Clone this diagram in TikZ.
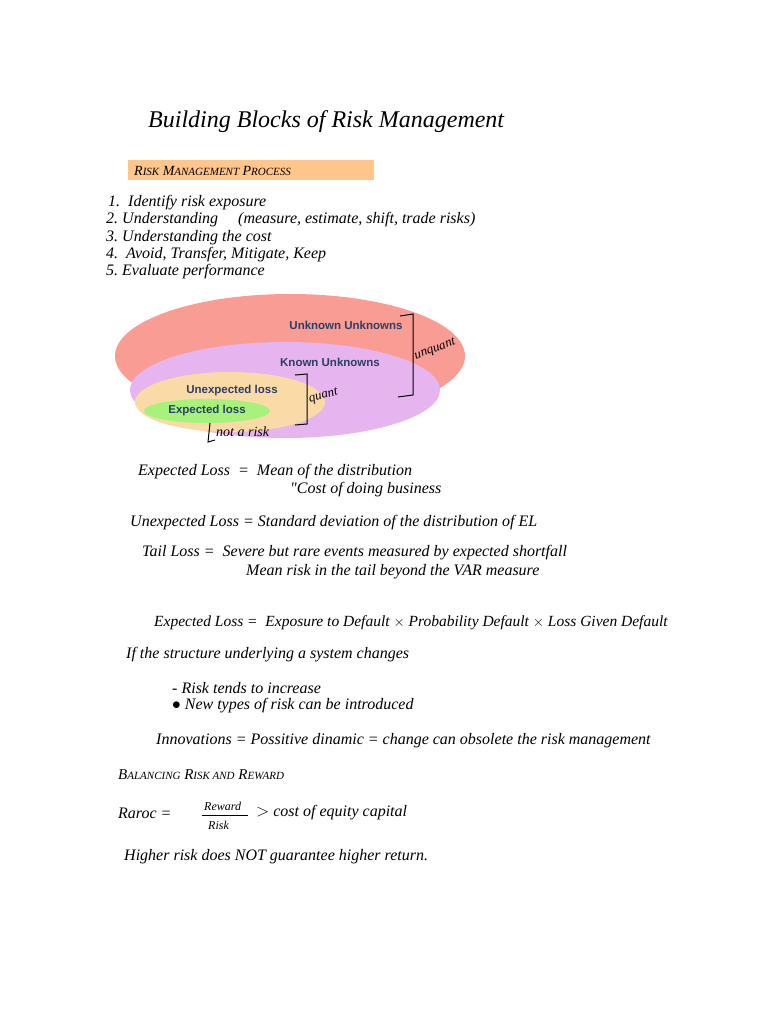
\documentclass[tikz,border=0pt]{standalone}
\usepackage{fontspec}
\setmainfont{Liberation Sans}
\newfontfamily\hand{Liberation Serif}
\definecolor{lilac}{HTML}{E6B4EE}
\definecolor{salmon}{HTML}{F99C94}
\definecolor{peach}{HTML}{FADBA8}
\definecolor{lgreen}{HTML}{A6F27C}
\definecolor{navy}{HTML}{2A3F66}
\begin{document}
\begin{tikzpicture}[x=1pt,y=-1pt,
  hw/.style={font=\hand\itshape\fontsize{16}{18}\selectfont,anchor=west,inner sep=0pt},
  lab/.style={font=\bfseries\fontsize{11.5}{13}\selectfont,text=navy,inner sep=0pt},
  brk/.style={line width=1pt}]
\useasboundingbox[fill=white] (0,0) rectangle (768,1024);
\node[hw,font=\hand\itshape\fontsize{24}{28}\selectfont] (title) at (148,122) {Building Blocks of Risk Management};
\fill[orange!45] (128,160) rectangle (374,180);
\node[hw,font=\hand\itshape\fontsize{14}{16}\selectfont] (proc) at (134,171) {R{\fontsize{11}{12}\selectfont ISK} M{\fontsize{11}{12}\selectfont ANAGEMENT} P{\fontsize{11}{12}\selectfont ROCESS}};
\node[hw] (l1) at (108,203) {1.\ \ Identify risk exposure};
\node[hw] (l2) at (106,220) {2.\ Understanding \quad (measure, estimate, shift, trade risks)};
\node[hw] (l3) at (106,238) {3.\ Understanding the cost};
\node[hw] (l4) at (106,255) {4.\ \ Avoid, Transfer, Mitigate, Keep};
\node[hw] (l5) at (106,272) {5.\ Evaluate performance};
\fill[salmon] (290,356) ellipse (175 and 62);
\fill[lilac] (285,390) ellipse (155 and 48);
\fill[peach] (230,402) ellipse (95 and 30);
\fill[lgreen] (207,411) ellipse (63 and 12);
\node[lab] (uu) at (346,325) {Unknown Unknowns};
\node[lab] (ku) at (330,362) {Known Unknowns};
\node[lab] (ul) at (232,391) {Unexpected loss};
\node[lab] (el) at (207,411) {Expected loss};
\draw[brk] (400,316) -- (413,314) -- (413,395) -- (398,397);
\node[font=\hand\itshape\fontsize{13}{14}\selectfont,rotate=20,anchor=west,inner sep=0pt] (unq) at (415,357) {unquant};
\draw[brk] (295,375) -- (307,374) -- (307,424) -- (295,425);
\node[font=\hand\itshape\fontsize{13}{14}\selectfont,rotate=15,anchor=west,inner sep=0pt] (qnt) at (309,400) {quant};
\draw[brk] (210,423) -- (208,442) -- (215,440);
\node[hw,font=\hand\itshape\fontsize{14}{16}\selectfont] (nr) at (216,432) {not a risk};
\node[hw] (e1) at (138,472) {Expected Loss \ = \ Mean of the distribution};
\node[hw] (e2) at (290,490) {"Cost of doing business};
\node[hw] (u1) at (130,523) {Unexpected Loss = Standard deviation of the distribution of EL};
\node[hw] (t1) at (142,553) {Tail Loss = \ Severe but rare events measured by expected shortfall};
\node[hw] (t2) at (246,572) {Mean risk in the tail beyond the VAR measure};
\node[hw,font=\hand\itshape\fontsize{15.5}{17}\selectfont] (x1) at (154,623) {Expected Loss = \ Exposure to Default $\times$ Probability Default $\times$ Loss Given Default};
\node[hw] (s1) at (126,655) {If the structure underlying a system changes};
\node[hw] (s2) at (172,688) {- Risk tends to increase};
\node[hw] (s3) at (172,706) {$\bullet$ New types of risk can be introduced};
\node[hw] (s4) at (156,741) {Innovations = Possitive dinamic = change can obsolete the risk management};
\node[hw,font=\hand\itshape\fontsize{15}{17}\selectfont] (b1) at (118,775) {B{\fontsize{11}{12}\selectfont ALANCING} R{\fontsize{11}{12}\selectfont ISK AND} R{\fontsize{11}{12}\selectfont EWARD}};
\node[hw] (r1) at (118,813) {Raroc =};
\node[hw,font=\hand\itshape\fontsize{12}{14}\selectfont] (rw) at (204,806) {Reward};
\draw (202,815) -- (248,815);
\node[hw,font=\hand\itshape\fontsize{12}{14}\selectfont] (rk) at (208,825) {Risk};
\node[hw] (r2) at (256,813) {$>$ cost of equity capital};
\node[hw] (h1) at (124,857) {Higher risk does NOT guarantee higher return.};
\end{tikzpicture}
\end{document}
